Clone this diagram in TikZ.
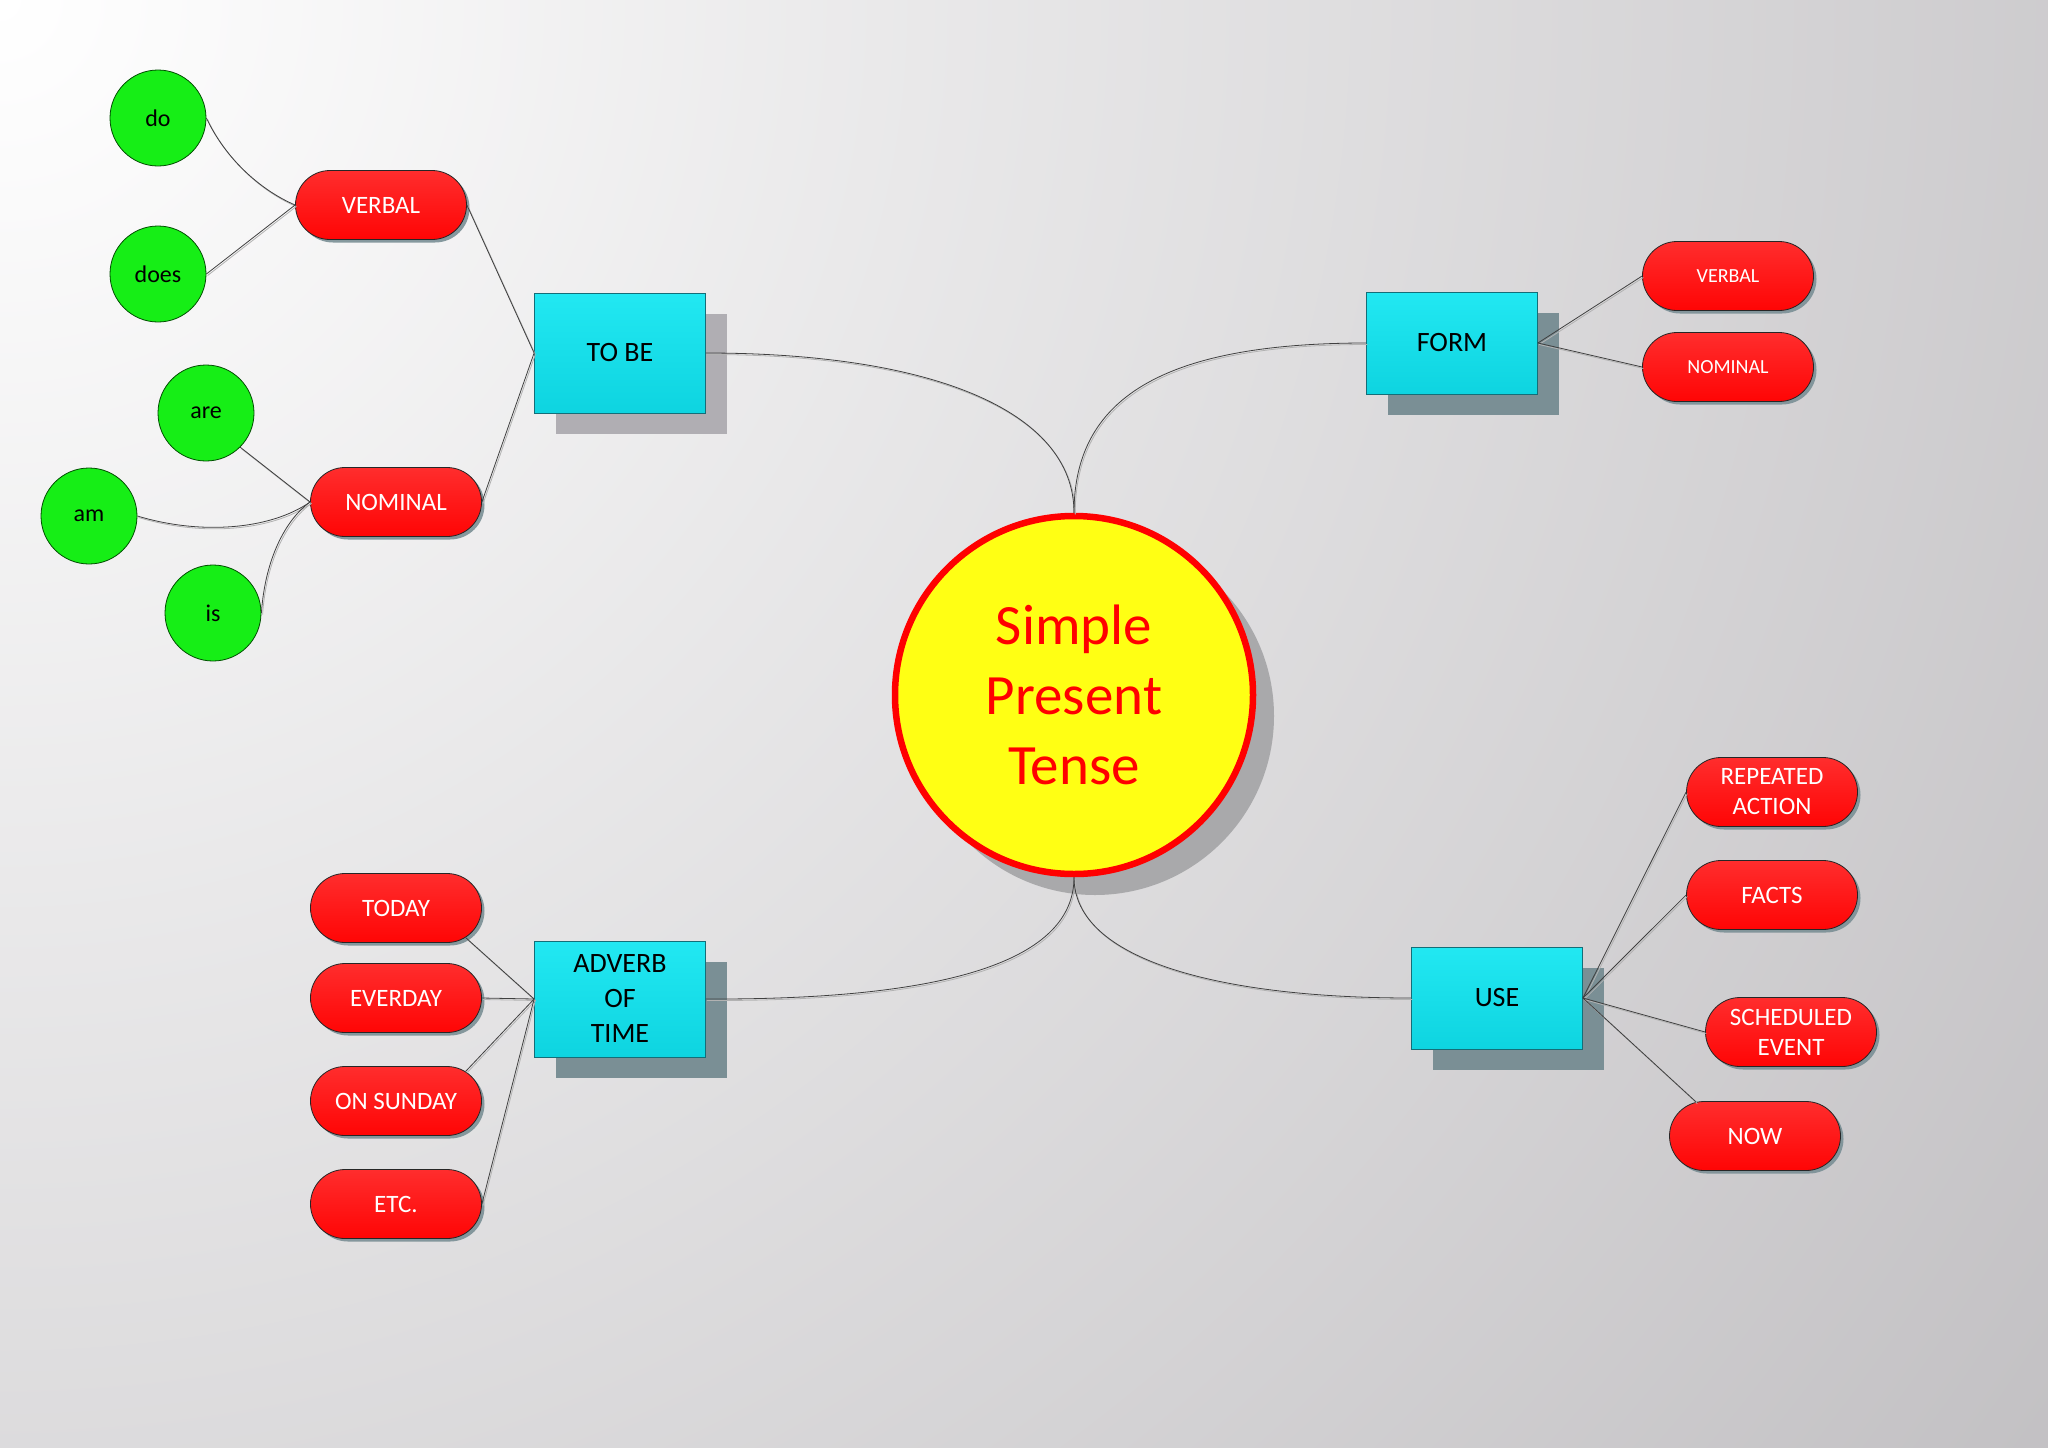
\documentclass[tikz,border=0pt]{standalone}
\usepackage{fontspec}
\setmainfont{Carlito}
\usetikzlibrary{shapes.misc,shadows}
\definecolor{bggray}{RGB}{190,188,191}
\definecolor{pilltop}{RGB}{255,45,45}
\definecolor{pillbot}{RGB}{255,5,5}
\definecolor{boxtop}{RGB}{34,232,242}
\definecolor{boxbot}{RGB}{14,212,224}
\definecolor{boxedge}{RGB}{20,110,120}
\definecolor{slate}{RGB}{122,143,149}
\definecolor{lgray}{RGB}{176,174,179}
\definecolor{hubshadow}{RGB}{169,169,171}
\definecolor{leafgreen}{RGB}{22,238,22}
\definecolor{ctryellow}{RGB}{255,255,20}
\tikzset{
 pill/.style={rounded rectangle, minimum width=171pt, minimum height=69pt, inner sep=0pt,
   draw=black!85, line width=0.8pt, top color=pilltop, bottom color=pillbot, text=white,
   font=\fontsize{25}{30}\selectfont, align=center,
   drop shadow={shadow xshift=3pt, shadow yshift=-3pt, fill=slate, opacity=0.9}},
 smallpill/.style={pill, font=\fontsize{20}{24}\selectfont},
 leaf/.style={circle, minimum size=96pt, inner sep=0pt, draw=black!70!green, line width=0.8pt,
   fill=leafgreen, font=\fontsize{24}{28}\selectfont},
 topic/.style={rectangle, minimum width=171pt, inner sep=0pt, draw=boxedge, line width=0.8pt,
   top color=boxtop, bottom color=boxbot, font=\fontsize{28}{35}\selectfont, align=center,
   drop shadow={shadow xshift=21pt, shadow yshift=-21pt, fill=#1, opacity=1}},
 topic/.default=slate,
 hub/.style={circle, minimum size=358pt, inner sep=0pt, draw=red, line width=6.5pt, fill=ctryellow,
   text=red, font=\fontsize{57}{70}\selectfont, align=center,
   drop shadow={shadow xshift=21pt, shadow yshift=-21pt, fill=hubshadow, opacity=1, draw=none}},
 conn/.style={draw=black!75, line width=0.8pt,
   preaction={draw=black!30, line width=0.8pt, transform canvas={xshift=1.2pt, yshift=-1.5pt}}},
}
\begin{document}
\begin{tikzpicture}[x=1pt,y=-1pt]
\useasboundingbox (0,0) rectangle (2048,1448);
\begin{scope}
\clip (0,0) rectangle (2048,1448);
\shade[inner color=white, outer color=bggray] (0,0) circle (2700);
\end{scope}

% hub and topics
\node[hub] (hub) at (1074,695) {Simple\\Present\\Tense};
\node[topic=lgray, minimum height=120pt] (tobe) at (620,353) {TO BE};
\node[topic, minimum height=102pt] (form) at (1452,343) {FORM};
\node[topic, minimum height=116pt] (adv) at (620,999) {ADVERB\\OF\\TIME};
\node[topic, minimum height=102pt] (use) at (1497,998) {USE};

% pills
\node[pill] (verbalL) at (381,205) {VERBAL};
\node[pill] (nominalL) at (396,502) {NOMINAL};
\node[pill] (today) at (396,908) {TODAY};
\node[pill] (everday) at (396,998) {EVERDAY};
\node[pill] (sunday) at (396,1101) {ON SUNDAY};
\node[pill] (etc) at (396,1204) {ETC.};
\node[smallpill] (verbalR) at (1728,276) {VERBAL};
\node[smallpill] (nominalR) at (1728,367) {NOMINAL};
\node[pill] (repeated) at (1772,792) {REPEATED\\ACTION};
\node[pill] (facts) at (1772,895) {FACTS};
\node[pill] (sched) at (1791,1032) {SCHEDULED\\EVENT};
\node[pill] (now) at (1755,1136) {NOW};

% leaves
\node[leaf] (do) at (158,118) {do};
\node[leaf] (does) at (158,274) {does};
\node[leaf] (are) at (206,413) {are};
\node[leaf] (am) at (89,516) {am};
\node[leaf] (is) at (213,613) {is};

% main connectors
\draw[conn] (tobe.east) .. controls (930,353) and (1074,410) .. (hub.north);
\draw[conn] (form.west) .. controls (1160,343) and (1074,400) .. (hub.north);
\draw[conn] (hub.south) .. controls (1074,960) and (950,1000) .. (adv.east);
\draw[conn] (hub.south) .. controls (1074,960) and (1220,998) .. (use.west);

% leaf connectors
\draw[conn] (do.east) .. controls (225,158) and (260,190) .. (verbalL.west);
\draw[conn] (does.east) -- (verbalL.west);
\draw[conn] (verbalL.east) -- (tobe.west);
\draw[conn] (nominalL.east) -- (tobe.west);
\draw[conn] (are.-45) -- (nominalL.west);
\draw[conn] (am.east) .. controls (200,535) and (270,530) .. (nominalL.west);
\draw[conn] (is.east) .. controls (265,560) and (285,520) .. (nominalL.west);
\draw[conn] (today.-23) -- (adv.west);
\draw[conn] (everday.east) -- (adv.west);
\draw[conn] (sunday.23) -- (adv.west);
\draw[conn] (etc.east) -- (adv.west);
\draw[conn] (form.east) -- (verbalR.west);
\draw[conn] (form.east) -- (nominalR.west);
\draw[conn] (use.east) -- (repeated.west);
\draw[conn] (use.east) -- (facts.west);
\draw[conn] (use.east) -- (sched.west);
\draw[conn] (use.east) -- (now.150);
\end{tikzpicture}
\end{document}
